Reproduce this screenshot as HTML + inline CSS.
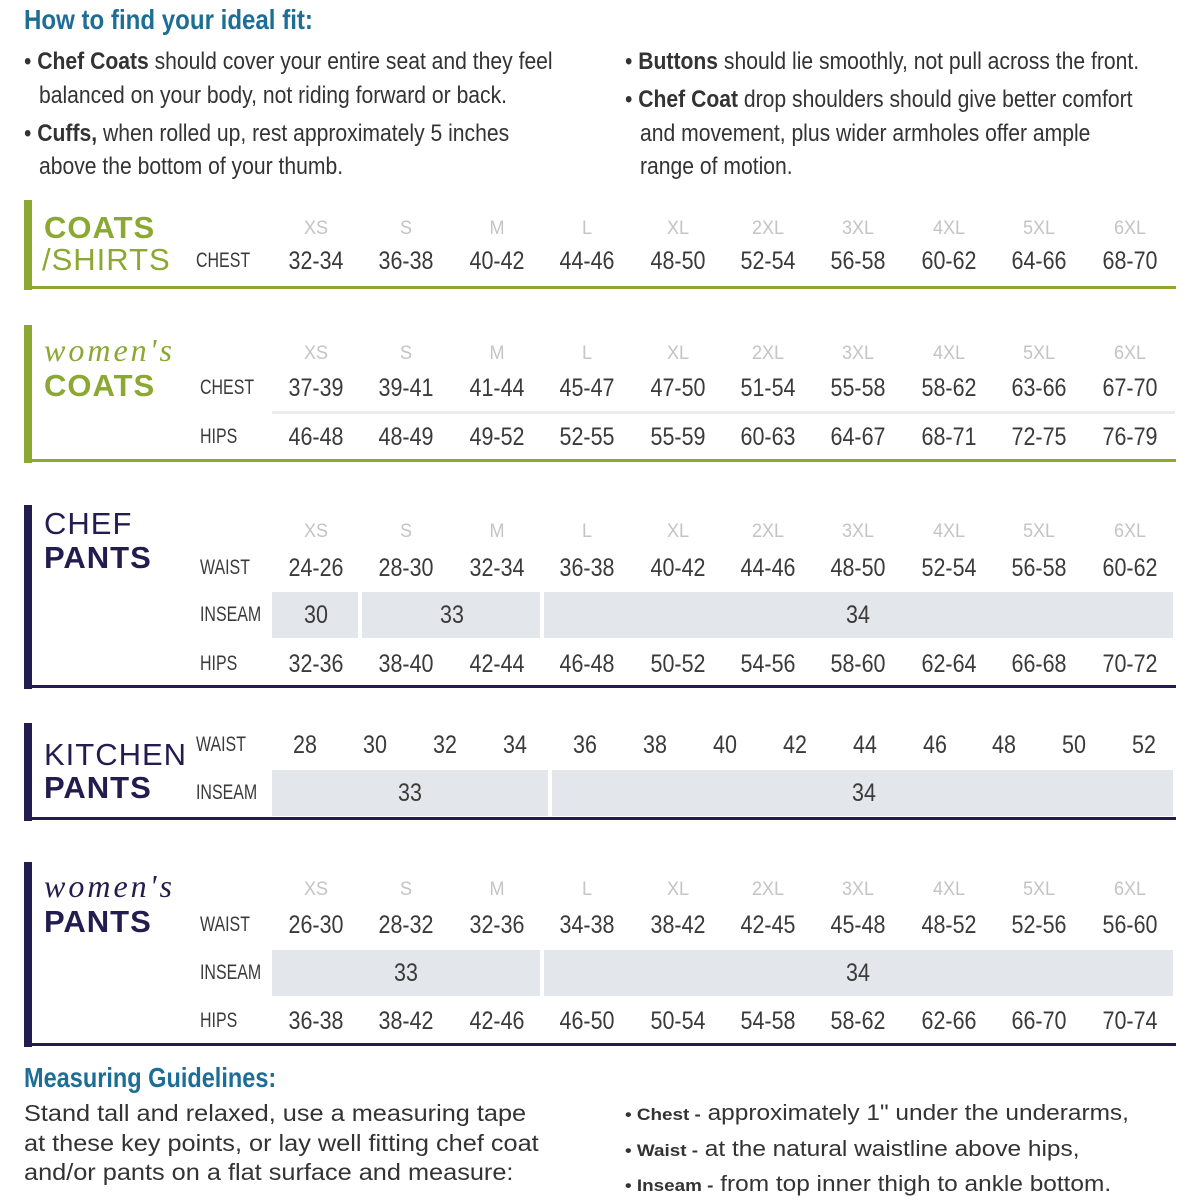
<!DOCTYPE html>
<html><head><meta charset="utf-8"><style>
body{margin:0;width:1200px;height:1200px;background:#fff;position:relative;overflow:hidden;font-family:"Liberation Sans",sans-serif;color:#333}
div{position:absolute;white-space:nowrap;line-height:1}
.c{width:100px;text-align:center}
.sz{font-size:19px;color:#c4c4c4;transform:scaleX(0.95)}
.v{font-size:25px;color:#3a3a3a;transform:scaleX(0.86)}
.lb{font-size:21px;color:#3a3a3a;transform:scaleX(0.76);transform-origin:left center}
.g{color:#8aa832}
.n{color:#231c4f}
.band{background:#e3e6ea;height:46px}
.hd{font-size:31px;letter-spacing:1px}
.tx{font-size:24px;color:#333;transform:scaleX(0.88);transform-origin:left center}
</style></head><body>
<div style="left:24px;top:6px;font-size:28px;font-weight:bold;color:#1d6e96;transform:scaleX(0.86);transform-origin:left">How to find your ideal fit:</div>
<div class="tx" style="left:24px;top:50px">• <b>Chef Coats</b> should cover your entire seat and they feel</div>
<div class="tx" style="left:39px;top:84px">balanced on your body, not riding forward or back.</div>
<div class="tx" style="left:24px;top:122px">• <b>Cuffs,</b> when rolled up, rest approximately 5 inches</div>
<div class="tx" style="left:39px;top:155px">above the bottom of your thumb.</div>
<div class="tx" style="left:625px;top:50px">• <b>Buttons</b> should lie smoothly, not pull across the front.</div>
<div class="tx" style="left:625px;top:88px">• <b>Chef Coat</b> drop shoulders should give better comfort</div>
<div class="tx" style="left:640px;top:122px">and movement, plus wider armholes offer ample</div>
<div class="tx" style="left:640px;top:155px">range of motion.</div>

<div style="left:24px;top:200px;width:8px;height:90px;background:#8aa832"></div>
<div style="left:24px;top:286px;width:1152px;height:3px;background:#8aa832"></div>
<div class="hd g" style="left:44px;top:212px;font-weight:bold">COATS</div>
<div class="hd g" style="left:42px;top:244px">/SHIRTS</div>
<div class="lb" style="left:196px;top:250px">CHEST</div>

<div style="left:24px;top:325px;width:8px;height:138px;background:#8aa832"></div>
<div style="left:24px;top:459px;width:1152px;height:3px;background:#8aa832"></div>
<div class="g" style="left:44px;top:334px;font-family:'Liberation Serif',serif;font-style:italic;font-size:32px;letter-spacing:3px">women's</div>
<div class="hd g" style="left:44px;top:370px;font-weight:bold">COATS</div>
<div class="lb" style="left:200px;top:377px">CHEST</div>
<div style="left:272px;top:411px;width:903px;height:3px;background:#ececec"></div>
<div class="lb" style="left:200px;top:426px">HIPS</div>

<div style="left:24px;top:505px;width:8px;height:184px;background:#231c4f"></div>
<div style="left:24px;top:685px;width:1152px;height:3px;background:#231c4f"></div>
<div class="hd n" style="left:44px;top:508px">CHEF</div>
<div class="hd n" style="left:44px;top:542px;font-weight:bold">PANTS</div>
<div class="lb" style="left:200px;top:557px">WAIST</div>
<div class="band" style="left:272px;top:592px;width:86px"></div>
<div class="band" style="left:362px;top:592px;width:178px"></div>
<div class="band" style="left:544px;top:592px;width:629px"></div>
<div class="lb" style="left:200px;top:604px">INSEAM</div>
<div class="v c" style="left:266px;top:603px">30</div>
<div class="v c" style="left:402px;top:603px">33</div>
<div class="v c" style="left:808px;top:603px">34</div>
<div class="lb" style="left:200px;top:653px">HIPS</div>

<div style="left:24px;top:723px;width:8px;height:98px;background:#231c4f"></div>
<div style="left:24px;top:817px;width:1152px;height:3px;background:#231c4f"></div>
<div class="hd n" style="left:44px;top:739px">KITCHEN</div>
<div class="hd n" style="left:44px;top:772px;font-weight:bold">PANTS</div>
<div class="lb" style="left:196px;top:734px">WAIST</div>
<div class="band" style="left:272px;top:770px;width:276px"></div>
<div class="band" style="left:552px;top:770px;width:621px"></div>
<div class="lb" style="left:196px;top:782px">INSEAM</div>
<div class="v c" style="left:360px;top:781px">33</div>
<div class="v c" style="left:814px;top:781px">34</div>

<div style="left:24px;top:862px;width:8px;height:185px;background:#231c4f"></div>
<div style="left:24px;top:1043px;width:1152px;height:3px;background:#231c4f"></div>
<div class="n" style="left:44px;top:870px;font-family:'Liberation Serif',serif;font-style:italic;font-size:32px;letter-spacing:3px">women's</div>
<div class="hd n" style="left:44px;top:906px;font-weight:bold">PANTS</div>
<div class="lb" style="left:200px;top:914px">WAIST</div>
<div class="band" style="left:272px;top:950px;width:268px"></div>
<div class="band" style="left:544px;top:950px;width:629px"></div>
<div class="lb" style="left:200px;top:962px">INSEAM</div>
<div class="v c" style="left:356px;top:961px">33</div>
<div class="v c" style="left:808px;top:961px">34</div>
<div class="lb" style="left:200px;top:1010px">HIPS</div>

<div style="left:24px;top:1064px;font-size:28px;font-weight:bold;color:#1d6e96;transform:scaleX(0.84);transform-origin:left">Measuring Guidelines:</div>
<div style="left:24px;top:1102px;font-size:23px;color:#333;transform:scaleX(1.1);transform-origin:left">Stand tall and relaxed, use a measuring tape</div>
<div style="left:24px;top:1132px;font-size:23px;color:#333;transform:scaleX(1.1);transform-origin:left">at these key points, or lay well fitting chef coat</div>
<div style="left:24px;top:1161px;font-size:23px;color:#333;transform:scaleX(1.1);transform-origin:left">and/or pants on a flat surface and measure:</div>
<div style="left:625px;top:1102px;font-size:22px;color:#333;transform:scaleX(1.11);transform-origin:left"><b style="font-size:17px">• Chest -</b> approximately 1" under the underarms,</div>
<div style="left:625px;top:1138px;font-size:22px;color:#333;transform:scaleX(1.11);transform-origin:left"><b style="font-size:17px">• Waist -</b> at the natural waistline above hips,</div>
<div style="left:625px;top:1173px;font-size:22px;color:#333;transform:scaleX(1.11);transform-origin:left"><b style="font-size:17px">• Inseam -</b> from top inner thigh to ankle bottom.</div>

<script>
var cx=[316,406,497,587,678,768,858,949,1039,1130];
var sizes=["XS","S","M","L","XL","2XL","3XL","4XL","5XL","6XL"];
function row(vals,y,cls){vals.forEach(function(v,i){var d=document.createElement('div');d.className=cls+' c';d.style.left=(cx[i]-50)+'px';d.style.top=y+'px';d.textContent=v;document.body.appendChild(d);});}
row(sizes,219,'sz');row("32-34 36-38 40-42 44-46 48-50 52-54 56-58 60-62 64-66 68-70".split(' '),249,'v');
row(sizes,344,'sz');row("37-39 39-41 41-44 45-47 47-50 51-54 55-58 58-62 63-66 67-70".split(' '),376,'v');
row("46-48 48-49 49-52 52-55 55-59 60-63 64-67 68-71 72-75 76-79".split(' '),425,'v');
row(sizes,522,'sz');row("24-26 28-30 32-34 36-38 40-42 44-46 48-50 52-54 56-58 60-62".split(' '),556,'v');
row("32-36 38-40 42-44 46-48 50-52 54-56 58-60 62-64 66-68 70-72".split(' '),652,'v');
row(sizes,880,'sz');row("26-30 28-32 32-36 34-38 38-42 42-45 45-48 48-52 52-56 56-60".split(' '),913,'v');
row("36-38 38-42 42-46 46-50 50-54 54-58 58-62 62-66 66-70 70-74".split(' '),1009,'v');
var kx=[305,375,445,515,585,655,725,795,865,935,1004,1074,1144];
"28 30 32 34 36 38 40 42 44 46 48 50 52".split(' ').forEach(function(v,i){var d=document.createElement('div');d.className='v c';d.style.left=(kx[i]-50)+'px';d.style.top='733px';d.textContent=v;document.body.appendChild(d);});
</script>
</body></html>
